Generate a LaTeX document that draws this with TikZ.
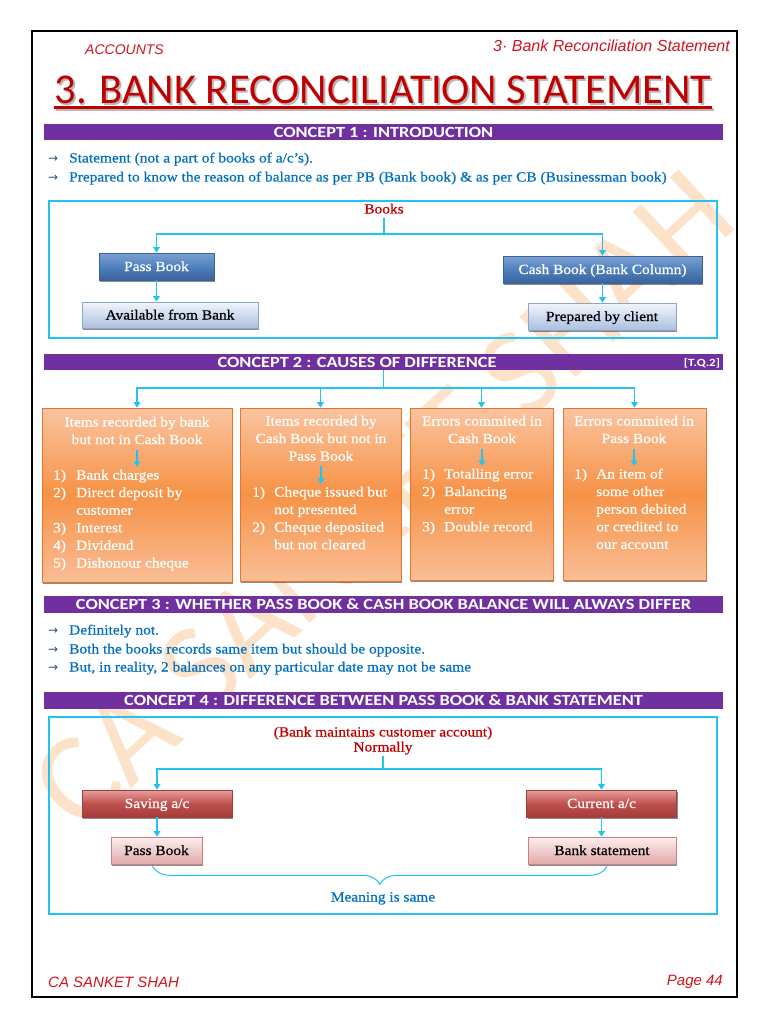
\documentclass[tikz,border=0pt]{standalone}
\usepackage{graphicx}
\usepackage{fontspec}
\setmainfont{Liberation Serif}[FakeStretch=1.1,FakeBold=0.6]
\newfontfamily\calib{Carlito}
\newfontfamily\barf{Carlito}[FakeStretch=1.18]
\newfontfamily\handf{Liberation Sans}
\newfontfamily\symf{DejaVu Sans}
\usetikzlibrary{arrows.meta,shadows,decorations.pathreplacing,calc}
\definecolor{cyanl}{RGB}{35,195,240}
\definecolor{purp}{RGB}{112,48,160}
\definecolor{blutxt}{RGB}{0,112,192}
\definecolor{dred}{RGB}{192,0,0}
\definecolor{hred}{RGB}{210,20,30}
\definecolor{wmc}{RGB}{252,226,200}
\definecolor{bulc}{RGB}{45,80,140}
\definecolor{orT}{RGB}{250,196,160}
\definecolor{orM}{RGB}{246,146,70}
\definecolor{orB}{RGB}{250,190,150}
\definecolor{orD}{RGB}{226,118,48}
\definecolor{bdT}{RGB}{125,160,210}
\definecolor{bdM}{RGB}{79,129,189}
\definecolor{bdB}{RGB}{58,98,155}
\definecolor{blT}{RGB}{242,246,252}
\definecolor{blB}{RGB}{170,192,224}
\definecolor{blD}{RGB}{140,165,200}
\definecolor{rdT}{RGB}{230,160,158}
\definecolor{rdM}{RGB}{192,80,77}
\definecolor{rdB}{RGB}{165,60,58}
\definecolor{rlT}{RGB}{252,238,238}
\definecolor{rlB}{RGB}{226,170,170}
\definecolor{rlD}{RGB}{200,130,130}
\newcommand\bularrow{\makebox[21pt][l]{{\symf\color{bulc}\fontsize{12}{12}\selectfont →}}}
\tikzset{
  fs/.style={font=\fontsize{14}{17.6}\selectfont},
  conn/.style={draw=cyanl,line width=1.6pt},
  arr/.style={conn,-{Triangle[width=6.5pt,length=5.5pt]}},
  shad/.style={drop shadow={shadow xshift=1.2pt,shadow yshift=-1.6pt,fill=black,opacity=0.45}},
  bar/.style={fill=purp,inner sep=0pt,text=white,font=\barf\bfseries\fontsize{15.5}{16}\selectfont},
  bartxt/.style={inner sep=0pt,text=white,font=\barf\bfseries\fontsize{15.5}{16}\selectfont},
  frame/.style={draw=cyanl,line width=2pt},
  boxtxt/.style={fs,inner sep=0pt,text height=10.5pt,text depth=1.5pt},
  bdark/.style={shad,boxtxt,draw=bdB,line width=0.6pt,top color=bdT,bottom color=bdB,middle color=bdM,text=white},
  blight/.style={shad,boxtxt,draw=blD,line width=0.6pt,top color=blT,bottom color=blB,text=black},
  rdark/.style={shad,boxtxt,draw=rdB,line width=0.6pt,top color=rdT,bottom color=rdB,middle color=rdM,text=white},
  rlight/.style={shad,boxtxt,draw=rlD,line width=0.6pt,top color=rlT,bottom color=rlB,text=black},
  oran/.style={shad,draw=orD,line width=0.6pt,top color=orT,bottom color=orB,middle color=orM,inner sep=0pt},
  hd/.style={anchor=base,inner sep=0pt,text=white,fs},
  ls/.style={anchor=base west,inner sep=0pt,text=white,fs},
  lab/.style={anchor=base,inner sep=0pt,fs,text depth=4pt},
  bul/.style={anchor=base west,inner sep=0pt,text=blutxt,fs},
  hand/.style={inner sep=0pt,text=hred,font=\handf\itshape\fontsize{15}{15}\selectfont},
}
\begin{document}
\begin{tikzpicture}[x=1pt,y=-1pt]
\fill[white] (0,0) rectangle (768,1024);
\useasboundingbox (0,0) rectangle (768,1024);
% watermark
\node[rotate=42.8,text=wmc,inner sep=0pt] (wm) at (383,500) {\resizebox{900pt}{!}{\calib CA SANKET SHAH}};
% page frame
\draw[line width=1.8pt] (32,31) rectangle (737,997);
% headers
\node[hand,anchor=base west,font=\handf\itshape\fontsize{14}{14}\selectfont] (acc) at (85,55) {ACCOUNTS};
\node[hand,anchor=base east,font=\handf\itshape\fontsize{16}{16}\selectfont] (hdr) at (730,52) {3· Bank Reconciliation Statement};
\node[hand,anchor=base west] (ftl) at (48,987) {CA SANKET SHAH};
\node[hand,anchor=base east] (ftr) at (723,985) {Page 44};
% title
\node[anchor=base,inner sep=0pt,text=black!28,font=\calib\fontsize{42.5}{44}\selectfont] (tsh) at (385,106) {3. BANK RECONCILIATION STATEMENT};
\draw[black!28,line width=2.4pt] ($(tsh.base west)+(0,3.5)$) -- ($(tsh.base east)+(0,3.5)$);
\node[anchor=base,inner sep=0pt,text=dred,font=\calib\fontsize{42.5}{44}\selectfont] (title) at (383,104) {3. BANK RECONCILIATION STATEMENT};
\draw[dred,line width=2.4pt] ($(title.base west)+(0,3.5)$) -- ($(title.base east)+(0,3.5)$);
% concept 1
\node[bar,minimum width=679pt,minimum height=16.5pt] (c1) at (383.5,132) {CONCEPT 1 : INTRODUCTION};
\node[bul] (i1) at (48,162.5) {\bularrow Statement (not a part of books of a/c’s).};
\node[bul] (i2) at (48,181.5) {\bularrow Prepared to know the reason of balance as per PB (Bank book) \& as per CB (Businessman book)};
\draw[frame] (49,201) rectangle (717,338);
\node[lab,text=dred] (books) at (384,213.5) {Books};
\node[bdark,minimum width=115pt,minimum height=27pt] (pb) at (156.5,266.5) {Pass Book};
\node[blight,minimum width=176pt,minimum height=26pt] (avb) at (170,315) {Available from Bank};
\node[bdark,minimum width=199pt,minimum height=27pt] (cb) at (602.5,269.5) {Cash Book (Bank Column)};
\node[blight,minimum width=148pt,minimum height=27pt] (pbc) at (602,316.5) {Prepared by client};
\coordinate (j1) at (384,234);
\draw[conn] (books.south) -- (j1);
\draw[arr] (j1) -| (pb.north);
\draw[arr] (j1) -| (cb.north);
\draw[arr] (pb.south) -- (pb.south |- avb.north);
\draw[arr] (cb.south) -- (cb.south |- pbc.north);
% concept 2
\node[bar,minimum width=679pt,minimum height=16.5pt] (c2) at (383.5,362) {};
\node[bartxt] (c2t) at (357,362) {CONCEPT 2 : CAUSES OF DIFFERENCE};
\node[bartxt,font=\barf\bfseries\fontsize{11}{11}\selectfont] (tq) at (702,363) {[T.Q.2]};
\node[oran,minimum width=190pt,minimum height=174pt] (bA) at (137,495) {};
\node[oran,minimum width=161pt,minimum height=173pt] (bB) at (320.5,494.5) {};
\node[oran,minimum width=143pt,minimum height=172pt] (bC) at (481.5,494) {};
\node[oran,minimum width=143pt,minimum height=172pt] (bD) at (634.5,494) {};
\coordinate (j2) at (383.5,388);
\draw[conn] (c2.south) -- (j2);
\draw[arr] (j2) -| (bA.north);
\draw[arr] (j2) -| (bB.north);
\draw[arr] (j2) -| (bC.north);
\draw[arr] (j2) -| (bD.north);
\node[hd] (hA) at (137,426.5) {\begin{tabular}[t]{@{}c@{}}Items recorded by bank\\but not in Cash Book\end{tabular}};
\node[hd] (hB) at (321,425.5) {\begin{tabular}[t]{@{}c@{}}Items recorded by\\Cash Book but not in\\Pass Book\end{tabular}};
\node[hd] (hC) at (482,425.5) {\begin{tabular}[t]{@{}c@{}}Errors commited in\\Cash Book\end{tabular}};
\node[hd] (hD) at (634,425.5) {\begin{tabular}[t]{@{}c@{}}Errors commited in\\Pass Book\end{tabular}};
\node[ls] (lA) at (53,479.5) {\begin{tabular}[t]{@{}p{23pt}@{}l@{}}1) & Bank charges\\2) & Direct deposit by\\ & customer\\3) & Interest\\4) & Dividend\\5) & Dishonour cheque\end{tabular}};
\node[ls] (lB) at (252,496.5) {\begin{tabular}[t]{@{}p{22pt}@{}l@{}}1) & Cheque issued but\\ & not presented\\2) & Cheque deposited\\ & but not cleared\end{tabular}};
\node[ls] (lC) at (422,478.5) {\begin{tabular}[t]{@{}p{22pt}@{}l@{}}1) & Totalling error\\2) & Balancing\\ & error\\3) & Double record\end{tabular}};
\node[ls] (lD) at (574,478.5) {\begin{tabular}[t]{@{}p{22pt}@{}l@{}}1) & An item of\\ & some other\\ & person debited\\ & or credited to\\ & our account\end{tabular}};
\draw[arr] (hA.south -| bA.north) -- (lA.north -| bA.north);
\draw[arr] (hB.south) -- (hB.south |- lB.north);
\draw[arr] (hC.south) -- (hC.south |- lC.north);
\draw[arr] (hD.south) -- (hD.south |- lD.north);
% concept 3
\node[bar,minimum width=679pt,minimum height=17pt] (c3) at (383.5,604.5) {CONCEPT 3 : WHETHER PASS BOOK \& CASH BOOK BALANCE WILL ALWAYS DIFFER};
\node[bul] (i3) at (48,634.5) {\bularrow Definitely not.};
\node[bul] (i4) at (48,653.5) {\bularrow Both the books records same item but should be opposite.};
\node[bul] (i5) at (48,671.5) {\bularrow But, in reality, 2 balances on any particular date may not be same};
% concept 4
\node[bar,minimum width=679pt,minimum height=16.5pt] (c4) at (383.5,700.5) {CONCEPT 4 : DIFFERENCE BETWEEN PASS BOOK \& BANK STATEMENT};
\draw[frame] (49,717) rectangle (717,914);
\node[anchor=base,inner sep=0pt,text=dred,font=\fontsize{14}{15}\selectfont] (bm) at (383,736.5) {\begin{tabular}[t]{@{}c@{}}(Bank maintains customer account)\\Normally\end{tabular}};
\node[rdark,minimum width=150pt,minimum height=27pt] (sav) at (157,803.5) {Saving a/c};
\node[rdark,minimum width=150pt,minimum height=27pt] (cur) at (601.5,803.5) {Current a/c};
\node[rlight,minimum width=91pt,minimum height=27pt] (pb2) at (156.5,850.5) {Pass Book};
\node[rlight,minimum width=148pt,minimum height=27pt] (bst) at (602,850.5) {Bank statement};
\coordinate (j4) at (383,769);
\draw[conn] (bm.south) -- (j4);
\draw[arr] (j4) -| (sav.north);
\draw[arr] (j4) -| (cur.north);
\draw[arr] (sav.south) -- (sav.south |- pb2.north);
\draw[arr] (cur.south) -- (cur.south |- bst.north);
\draw[draw=cyanl,line width=1pt,decorate,decoration={brace,mirror,amplitude=18pt}] ($(pb2.south)+(-4,2)$) -- ($(bst.south)+(5,2)$);
\node[lab,text=blutxt] (mis) at (383,901.5) {Meaning is same};
\end{tikzpicture}
\end{document}
